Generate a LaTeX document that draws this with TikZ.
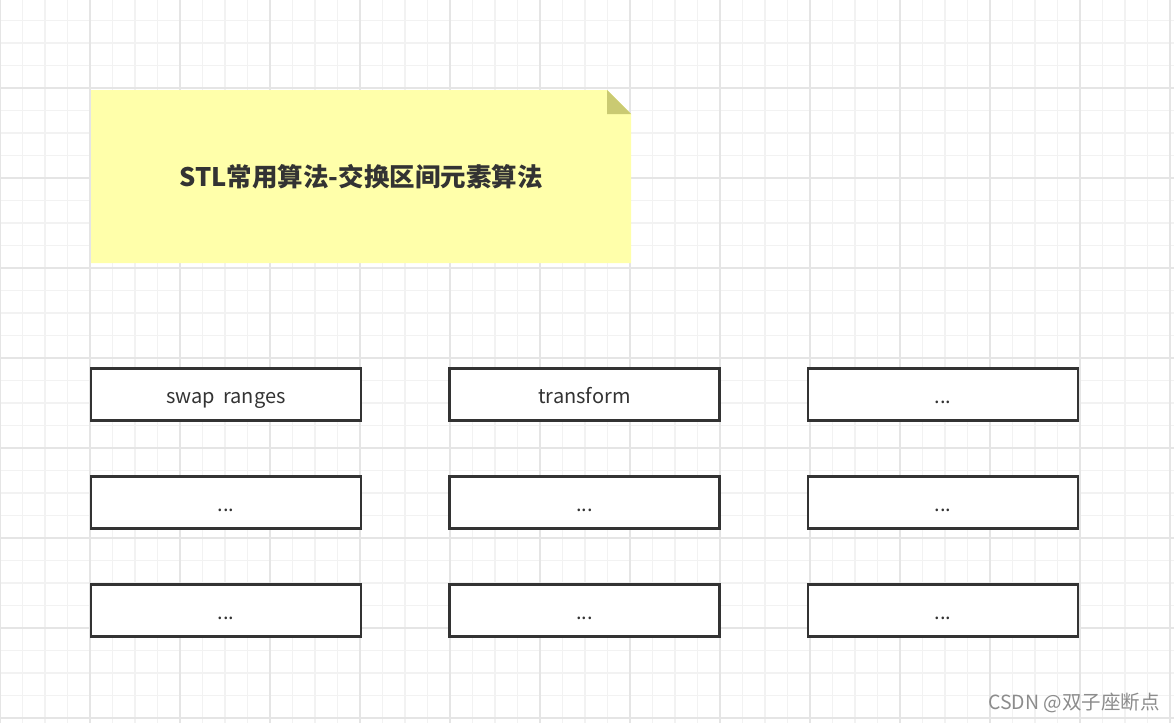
\documentclass[tikz,border=0pt]{standalone}
\usepackage{fontspec}
\setmainfont{Noto Sans CJK SC}
\definecolor{gridminor}{HTML}{F2F2F2}
\definecolor{gridmajor}{HTML}{E5E5E5}
\definecolor{notefill}{HTML}{FFFFAA}
\definecolor{notefold}{HTML}{CACA72}
\definecolor{boxline}{HTML}{333333}
\definecolor{wmgray}{HTML}{8C8C8C}
\tikzset{
  algobox/.style={draw=boxline, line width=2.5pt, fill=white, minimum width=270pt, minimum height=52pt, inner sep=0pt, text height=18pt, text depth=1pt, font=\fontsize{20}{22}\selectfont, text=boxline},
  titletext/.style={font=\fontsize{25.5}{30}\selectfont\bfseries, text=boxline},
}
\begin{document}
\begin{tikzpicture}[x=1pt,y=-1pt]
\useasboundingbox (0,0) rectangle (1174,723);
\fill[white] (0,0) rectangle (1174,723);
% grid
\foreach \i in {0,...,52}{
  \draw[gridminor, line width=1.2pt] ({22.5*\i},0) -- ({22.5*\i},723);
}
\foreach \j in {0,...,33}{
  \draw[gridminor, line width=1.2pt] (0,{-2+22.5*\j}) -- (1174,{-2+22.5*\j});
}
\foreach \i in {0,...,13}{
  \draw[gridmajor, line width=1.3pt] ({90*\i},0) -- ({90*\i},723);
}
\foreach \j in {0,...,8}{
  \draw[gridmajor, line width=1.3pt] (0,{-2+90*\j}) -- (1174,{-2+90*\j});
}
% note
\fill[notefill] (91,90) -- (607,90) -- (631,114) -- (631,263) -- (91,263) -- cycle;
\fill[notefold] (607,90) -- (631,114) -- (607,114) -- cycle;
\node[titletext] (title) at (361,177) {STL常用算法-交换区间元素算法};
% boxes
\node[algobox] (b11) at (226,394.5) {swap\hspace{8pt}ranges};
\node[algobox] (b12) at (584.5,394.5) {transform};
\node[algobox] (b13) at (943,394.5) {...};
\node[algobox] (b21) at (226,502.5) {...};
\node[algobox] (b22) at (584.5,502.5) {...};
\node[algobox] (b23) at (943,502.5) {...};
\node[algobox] (b31) at (226,610.5) {...};
\node[algobox] (b32) at (584.5,610.5) {...};
\node[algobox] (b33) at (943,610.5) {...};
% watermark
\node[anchor=east, text=wmgray, font=\fontsize{19.5}{22}\selectfont, inner sep=0pt] (wm) at (1160,703) {CSDN @双子座断点};
\end{tikzpicture}
\end{document}
